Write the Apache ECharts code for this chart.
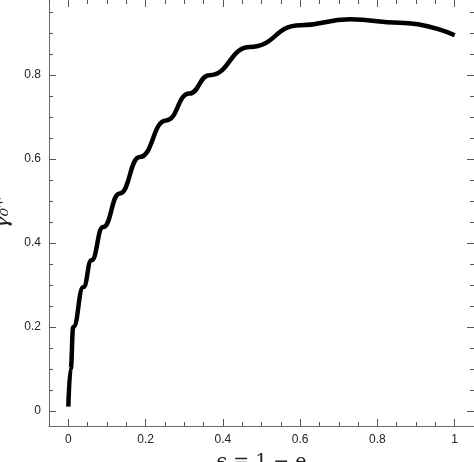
<!DOCTYPE html><html><head><meta charset="utf-8"><script src="https://cdn.jsdelivr.net/npm/echarts@6/dist/echarts.min.js"></script></head><body style="margin:0"><div id="c" style="width:474px;height:462px"></div><script>
const xs=[0,0.006,0.0129,0.039,0.06,0.09,0.133,0.185,0.253,0.313,0.365,0.47,0.6,0.729,0.858,1];
const ys=[0.01,0.1,0.2,0.295,0.359,0.438,0.518,0.605,0.692,0.756,0.80,0.867,0.919,0.933,0.925,0.895];
const xTicks=[0,0.2,0.4,0.6,0.8,1];
const yTicks=[0,0.2,0.4,0.6,0.8];
const xMinor=[];for(let i=-1;i<=21;i++)xMinor.push(+(i*0.05).toFixed(2));
const yMinor=[];for(let i=0;i<=19;i++)yMinor.push(+(i*0.05).toFixed(2));
const tc='#555', X=[-0.05,1.05], Y=[-0.036,0.979];
function mk(range,pos,ticks,len,lab,extra){return Object.assign({type:'value',min:range[0],max:range[1],position:pos,splitLine:{show:false},
 axisLine:{show:true,onZero:false,lineStyle:{color:lab?'#666':'rgba(0,0,0,0)'}},
 axisTick:{show:true,inside:true,length:len,customValues:ticks,lineStyle:{color:tc}},
 axisLabel:lab?{show:true,color:'#222',fontSize:12,fontFamily:'Liberation Sans',customValues:ticks,formatter:v=>String(+(+v).toFixed(1))}:{show:false}},extra||{});}
const chart=echarts.init(document.getElementById('c'));
chart.setOption({animation:false,
grid:{left:49,right:0,top:0,bottom:36,containLabel:false,outerBoundsMode:'none'},
xAxis:[mk(X,'bottom',xTicks,7,true,{name:'ϵ = 1 − e',nameLocation:'middle',nameGap:27,nameTextStyle:{fontSize:19,fontFamily:'DejaVu Serif',color:'#222'}}),
 mk(X,'bottom',xMinor,4,false),mk(X,'top',xTicks,7,false),mk(X,'top',xMinor,4,false)],
yAxis:[mk(Y,'left',yTicks,7,true,{name:'γ₀*',nameLocation:'middle',nameGap:30,nameRotate:90,nameTextStyle:{fontSize:21,fontStyle:'italic',fontFamily:'DejaVu Serif',color:'#222'}}),
 mk(Y,'left',yMinor,4,false),mk(Y,'right',yTicks,7,false),mk(Y,'right',yMinor,4,false)],
series:[{type:'line',data:xs.map((x,i)=>[x,ys[i]]),smooth:0.5,smoothMonotone:'x',showSymbol:false,lineStyle:{color:'#000',width:4.5}}]});
</script></body></html>
